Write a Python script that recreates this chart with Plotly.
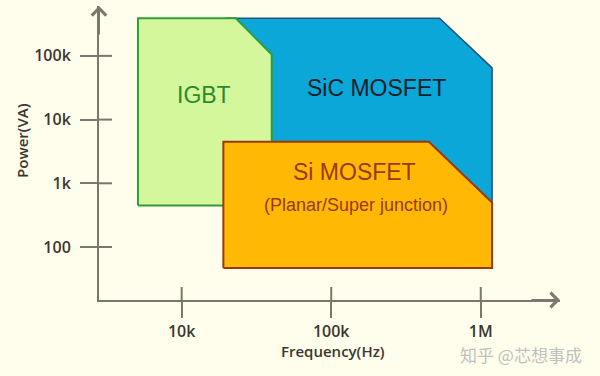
import numpy as np
import plotly.graph_objects as go

# ---- data: operating regions (frequency Hz, power VA) ----
igbt_freq = [5.1e3, 5.1e3, 23e3, 40e3, 40e3]
igbt_power = [450, 390e3, 390e3, 105e3, 450]

sic_freq = [20e3, 20e3, 530e3, 1.19e6, 1.19e6]
sic_power = [47, 390e3, 390e3, 65e3, 47]

si_freq = [19e3, 19e3, 450e3, 1.19e6, 1.19e6]
si_power = [47, 4.5e3, 4.5e3, 500, 47]

x_tickvals = [1e4, 1e5, 1e6]
x_ticktext = ["10k", "100k", "1M"]
y_tickvals = [100, 1e3, 1e4, 1e5]
y_ticktext = ["100", "1k", "10k", "100k"]

x_range = [3.447, 6.530]   # log10
y_range = [1.168, 5.783]   # log10

AX = "#7d766c"
TXT = "#3b3631"
BG = "#fffdec"

fig = go.Figure()

def poly(xs, ys, fill, line, w):
    fig.add_trace(go.Scatter(
        x=xs + xs[:1], y=ys + ys[:1], mode="lines", fill="toself",
        fillcolor=fill, line=dict(color=line, width=w), hoverinfo="skip",
        showlegend=False))

poly(sic_freq, sic_power, "#0ba7d9", "#22567f", 1.6)
poly(igbt_freq, igbt_power, "#d5f79b", "#2f9e3a", 2)
poly(si_freq, si_power, "#ffb804", "#9a3a0a", 2)

tickfont = dict(family="Open Sans", size=16, color=TXT, weight=600)

fig.update_xaxes(type="log", range=x_range, showgrid=False, zeroline=False,
                 showline=True, linecolor=AX, linewidth=2,
                 tickmode="array", tickvals=x_tickvals, ticktext=x_ticktext,
                 ticks="outside", ticklen=16, tickwidth=2, tickcolor=AX,
                 ticklabelstandoff=0, tickfont=tickfont, fixedrange=True)
fig.update_yaxes(type="log", range=y_range, showgrid=False, zeroline=False,
                 showline=True, linecolor=AX, linewidth=2,
                 tickmode="array", tickvals=y_tickvals, ticktext=y_ticktext,
                 ticks="outside", ticklen=17, tickwidth=2, tickcolor=AX,
                 ticklabelstandoff=6, tickfont=tickfont, fixedrange=True)

shapes = []
# inner halves of the tick crosses
for v in x_tickvals:
    shapes.append(dict(type="line", xref="x", yref="paper", x0=v, x1=v,
                       y0=0, y1=13 / 294, line=dict(color=AX, width=2)))
for v in y_tickvals:
    shapes.append(dict(type="line", xref="paper", yref="y", x0=0, x1=13 / 461,
                       y0=v, y1=v, line=dict(color=AX, width=2)))

annotations = []
# axis arrowheads
annotations.append(dict(xref="paper", yref="paper", x=1, y=0, ax=-30, ay=0,
                        text="", showarrow=True, arrowhead=4, arrowsize=1.4,
                        arrowwidth=2, arrowcolor=AX))
annotations.append(dict(xref="paper", yref="paper", x=0, y=1, ax=0, ay=30,
                        text="", showarrow=True, arrowhead=4, arrowsize=1.4,
                        arrowwidth=2, arrowcolor=AX))

def label(text, f, p, size, color):
    annotations.append(dict(xref="x", yref="y", x=np.log10(f), y=np.log10(p),
                            text=text, showarrow=False,
                            xanchor="center", yanchor="middle",
                            font=dict(family="Liberation Sans", size=size,
                                      color=color)))

label("IGBT", 14e3, 24.3e3, 23, "#2a8a30")
label("SiC MOSFET", 200e3, 31e3, 23, "#15202a")
label("Si MOSFET", 143e3, 1.48e3, 23, "#9a3a10")
label("(Planar/Super junction)", 146e3, 456, 18, "#9a3a10")

annotations.append(dict(xref="paper", yref="paper", x=0.508, y=-0.173,
                        xanchor="center", yanchor="middle",
                        text="Frequency(Hz)", showarrow=False,
                        font=dict(family="Open Sans", size=15, color=TXT,
                                  weight=600)))
annotations.append(dict(xref="paper", yref="paper", x=-0.167, y=0.541,
                        xanchor="center", yanchor="middle",
                        text="Power(VA)", showarrow=False, textangle=-90,
                        font=dict(family="Open Sans", size=15, color=TXT,
                                  weight=600)))
annotations.append(dict(xref="paper", yref="paper", x=0.915, y=-0.186,
                        xanchor="center", yanchor="middle",
                        text="知乎 @芯想事成", showarrow=False,
                        font=dict(family="Noto Sans CJK SC", size=17,
                                  color="rgba(175,175,175,0.8)")))

fig.update_layout(width=600, height=376, margin=dict(l=99, r=40, t=6, b=76),
                  paper_bgcolor=BG, plot_bgcolor=BG, showlegend=False,
                  shapes=shapes, annotations=annotations)

fig.write_html("out.html", config={"displayModeBar": False},
               post_script="document.body.style.margin='0';")
